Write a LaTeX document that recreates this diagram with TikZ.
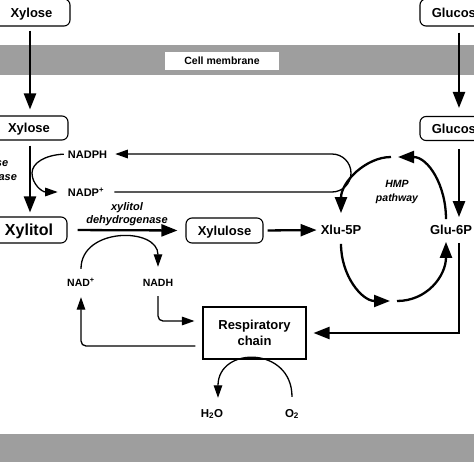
\documentclass[tikz,border=0pt]{standalone}
\usepackage{fontspec}
\setmainfont{Liberation Sans}
\usetikzlibrary{arrows.meta,calc}
\definecolor{memb}{RGB}{158,158,158}
\begin{document}
\begin{tikzpicture}[x=1pt,y=-1pt,
 box/.style={draw,line width=1.1pt,rounded corners=6pt,inner sep=0pt,text height=9.3pt,text depth=0pt,font=\fontsize{13}{15}\selectfont\bfseries},
 lbl/.style={inner sep=1pt,text height=8pt,text depth=0pt,font=\fontsize{10.5}{12}\selectfont\bfseries},
 mlbl/.style={inner sep=1pt,text height=9.3pt,text depth=0pt,font=\fontsize{13}{15}\selectfont\bfseries},
 ital/.style={inner sep=1pt,align=center,font=\fontsize{11}{12.5}\selectfont\bfseries\itshape},
 big/.style={line width=2.3pt,-{Triangle[length=16pt,width=12pt]}},
 thin/.style={line width=1.3pt,-{Triangle[length=12.5pt,width=8.5pt]}},
]
\useasboundingbox (0,0) rectangle (474,474);
\clip (0,0) rectangle (474,474);
\fill[white] (0,0) rectangle (474,474);
% membranes
\fill[memb] (0,45) rectangle (474,75);
\fill[memb] (0,434) rectangle (474,462);
\node[fill=white,minimum width=114pt,minimum height=18pt,inner sep=0pt,font=\fontsize{10.5}{12}\selectfont\bfseries] (cm) at (222,61) {Cell membrane};
% boxes
\node[box,minimum width=77pt,minimum height=27pt] (xyl1) at (31.5,12.5) {Xylose};
\node[box,minimum width=75pt,minimum height=27pt] (glc1) at (457.5,12.5) {Glucose};
\node[box,minimum width=78pt,minimum height=24pt] (xyl2) at (29,128) {Xylose};
\node[box,minimum width=75pt,minimum height=24pt] (glc2) at (457.5,128.5) {Glucose};
\node[box,minimum width=76pt,minimum height=26pt,text height=11.5pt,font=\fontsize{16}{18}\selectfont\bfseries] (xylitol) at (29,230) {Xylitol};
\node[box,minimum width=77pt,minimum height=25pt] (xylulose) at (224.5,230.5) {Xylulose};
\node[draw,line width=1.1pt,minimum width=103pt,minimum height=52pt,inner sep=0pt,align=center,font=\fontsize{13}{16}\selectfont\bfseries] (resp) at (254.5,333) {Respiratory\\chain};
% labels
\node[mlbl] (xlu) at (341,230) {Xlu-5P};
\node[mlbl] (glu) at (451,230) {Glu-6P};
\node[lbl,font=\fontsize{11}{12}\selectfont\bfseries] (nadph) at (87.5,154) {NADPH};
\node[lbl,font=\fontsize{11}{12}\selectfont\bfseries] (nadp) at (86,192) {NADP\textsuperscript{+}};
\node[lbl] (nad) at (81,282) {NAD\textsuperscript{+}};
\node[lbl] (nadh) at (158,282) {NADH};
\node[lbl,font=\fontsize{11.5}{13}\selectfont\bfseries] (h2o) at (212,413) {H\textsubscript{2}O};
\node[lbl,font=\fontsize{11.5}{13}\selectfont\bfseries] (o2) at (292,413) {O\textsubscript{2}};
\node[ital,font=\fontsize{11}{14}\selectfont\bfseries\itshape] (xr) at (-9,170) {xylose\\reductase};
\node[ital] (xdh) at (127,214) {xylitol\\dehydrogenase};
\node[ital,font=\fontsize{10.5}{14}\selectfont\bfseries\itshape] (hmp) at (397,192) {HMP\\pathway};
% helper coordinates
\coordinate (cxl) at (30,0);
\coordinate (cgl) at (459,0);
\coordinate (loopx) at (332,0);
\coordinate (ht1) at (398,157);
\coordinate (ht2) at (391,157);
\coordinate (hb1) at (390,301);
\coordinate (hb2) at (397,301);
% vertical transport arrows
\draw[big,shorten <=4pt,shorten >=6pt] (xyl1.south -| cxl) -- (xyl2.north -| cxl);
\draw[big,shorten <=6pt,shorten >=8pt] (glc1.south -| cgl) -- (glc2.north -| cgl);
\draw[big,shorten <=5pt,shorten >=4pt] (xyl2.south -| cxl) -- (xylitol.north -| cxl);
\draw[big,shorten <=8pt,shorten >=7pt] (glc2.south -| cgl) -- (glu.north -| cgl);
% main horizontal
\draw[big,shorten <=10pt,shorten >=8pt] (xylitol.east) -- (xylulose.west);
\draw[big,shorten <=4pt,shorten >=3pt] (xylulose.east) -- (xlu.west);
% HMP cycle
\draw[big,shorten <=5pt] ([xshift=-5pt]glu.north) .. controls (446,185) and (428,157) .. (ht1);
\draw[big,shorten >=11pt] (ht2) .. controls (366,157) and (341,182) .. (xlu.north);
\draw[big,shorten <=8pt] (xlu.south) .. controls (341,276) and (362,301) .. (hb1);
\draw[big,shorten >=6pt] (hb2) .. controls (427,301) and (446,276) .. ([xshift=-5pt]glu.south);
% NADPH cofactor
\draw[thin,shorten <=3pt,shorten >=9pt] (nadph.west) .. controls (45,155) and (32,163) .. (32,173) .. controls (32,184) and (42,192) .. (nadp.west);
\draw[thin,shorten <=9pt,shorten >=7pt] (nadp.east) -- (nadp.east -| loopx) arc[start angle=90,end angle=-90,radius=19] -- (nadph.east);
% NAD cofactor
\draw[thin,shorten <=8pt,shorten >=10pt] (nad.north) .. controls (81,227) and (158,227) .. (nadh.north);
\draw[thin,rounded corners=5pt,shorten <=9pt,shorten >=8pt] (nadh.south) |- ([yshift=12pt]resp.west);
\draw[thin,rounded corners=5pt,shorten <=7pt,shorten >=10pt] ([yshift=-13pt]resp.west) -| (nad.south);
% Glu-6P to respiratory chain
\draw[big,shorten <=7pt,shorten >=7pt] (glu.south -| cgl) |- (resp.east);
% O2 -> H2O
\draw[thin,shorten <=11pt,shorten >=10pt] (o2.north) .. controls (292,346) and (218,346) .. ([xshift=6pt]h2o.north);
\end{tikzpicture}
\end{document}
